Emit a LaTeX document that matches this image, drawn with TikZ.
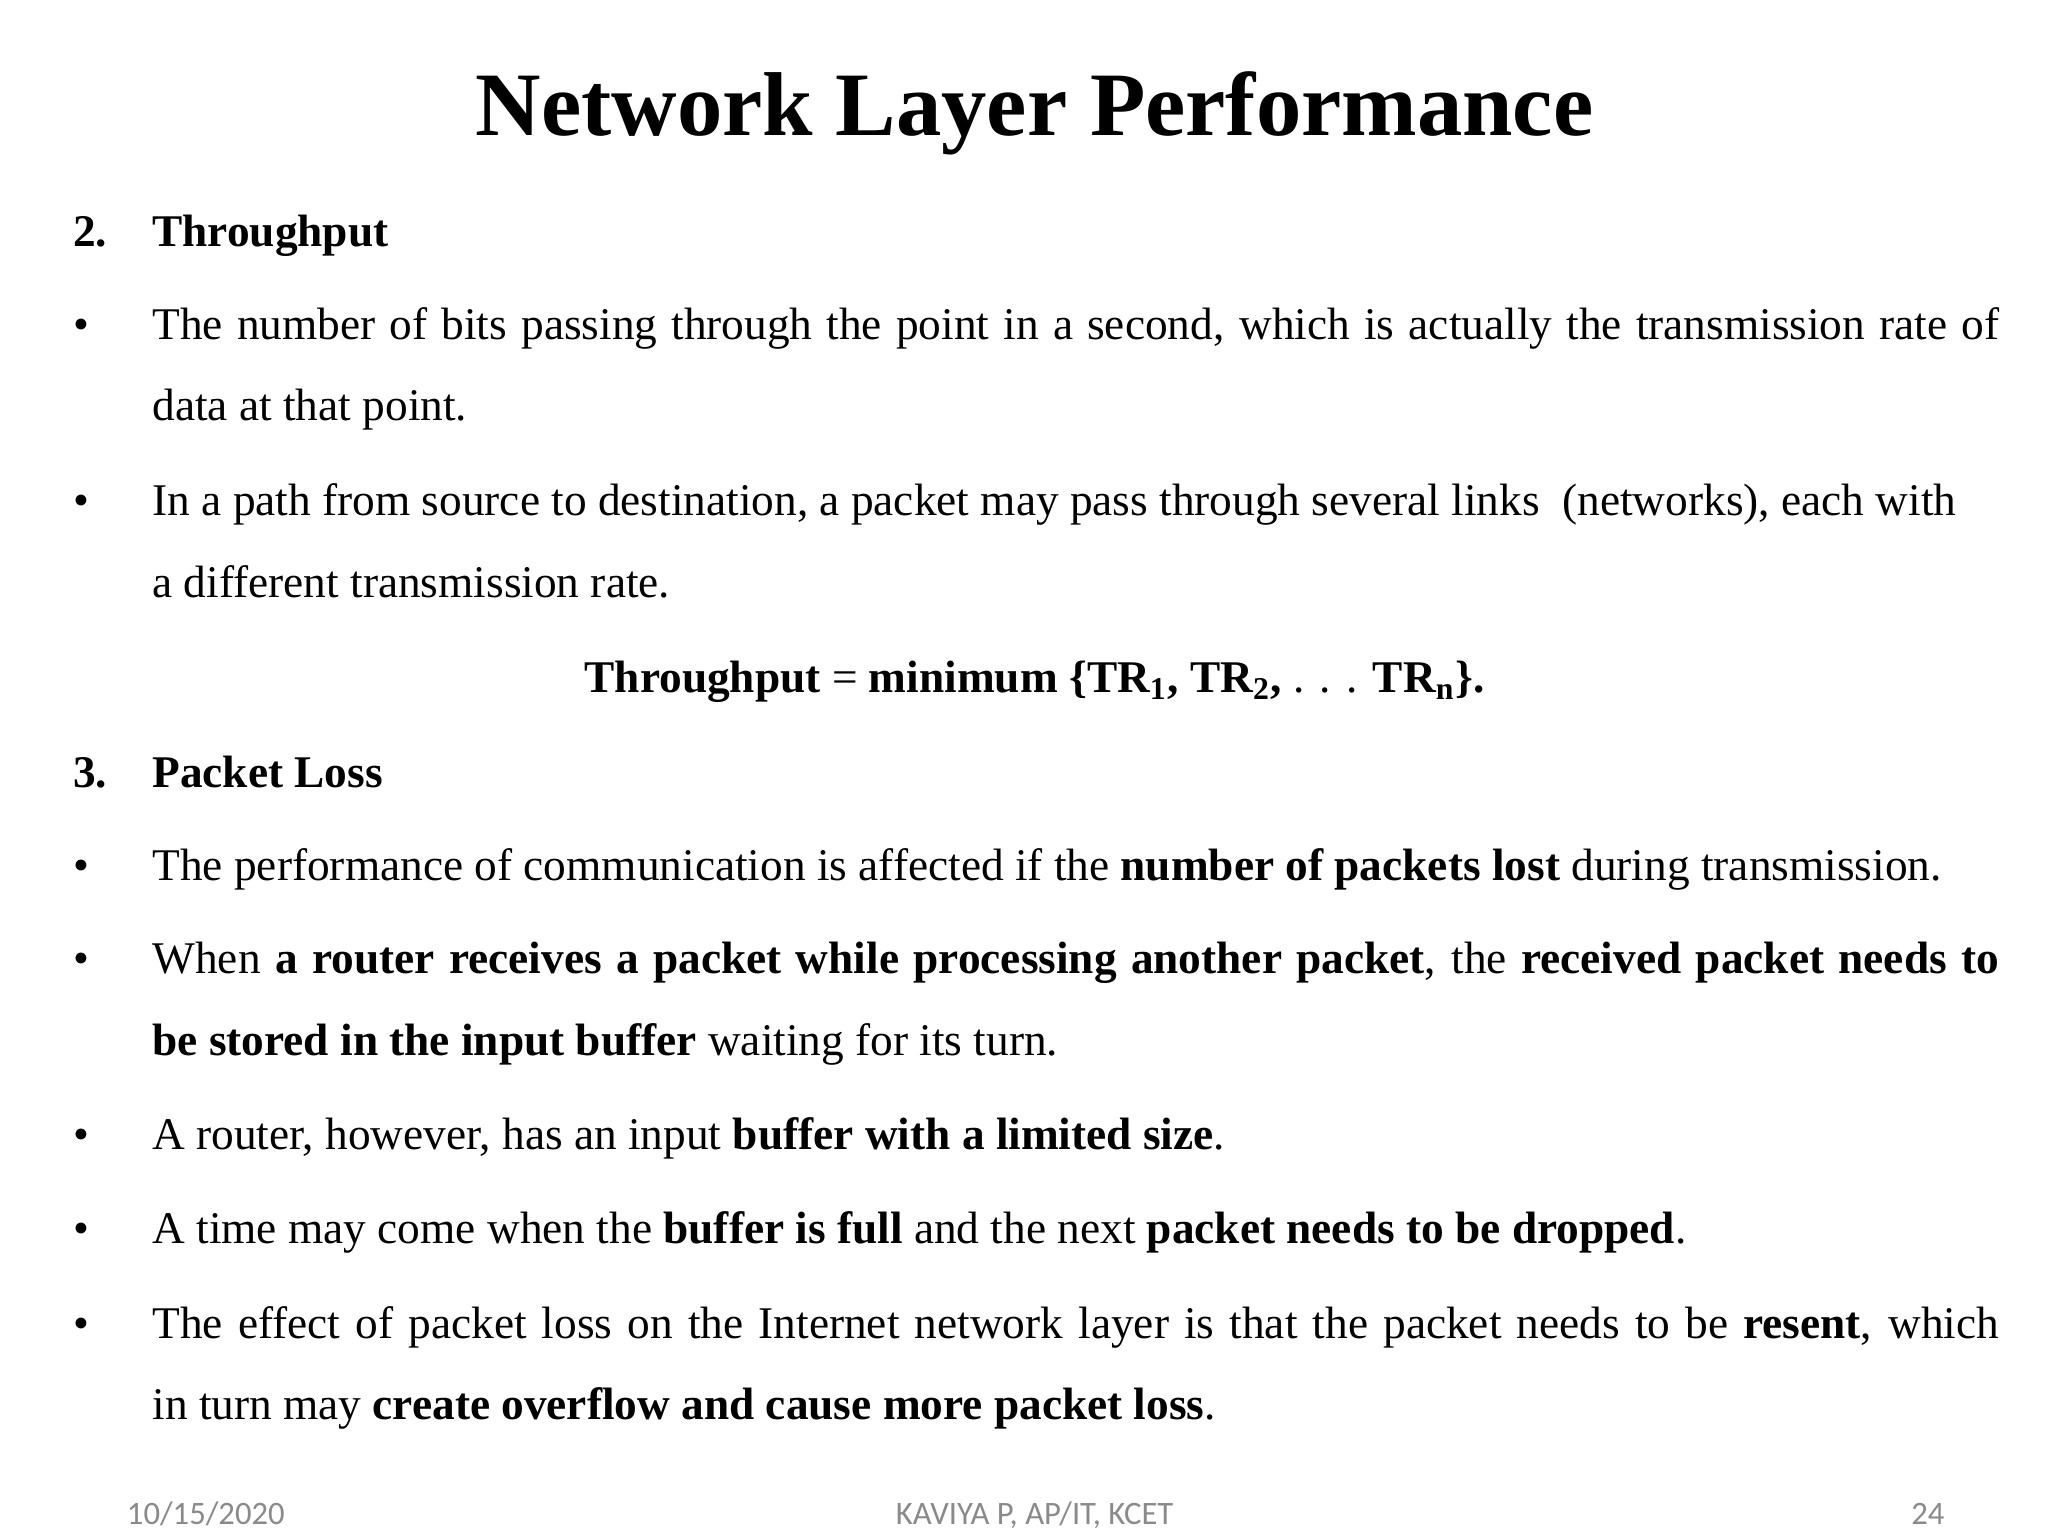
\documentclass[tikz,border=0pt]{standalone}
\usepackage{fontspec}
\setmainfont{Liberation Serif}
\newfontfamily\footfont{Carlito}
\begin{document}
\begin{tikzpicture}[x=0.013196cm,y=-0.013196cm,
  body/.style={anchor=base west,inner sep=0pt,font=\fontsize{12.9}{14}\selectfont},
  foot/.style={anchor=base,inner sep=0pt,font=\footfont\fontsize{9.3}{11}\selectfont,text=black!46}]
\useasboundingbox (0,0) rectangle (1552,1164);
\fill[white] (0,0) rectangle (1552,1164);
\node[anchor=base,inner sep=0pt,font=\fontsize{25.8}{30}\selectfont\bfseries] (title) at (784,103) {Network Layer Performance};
\newcommand{\J}[1]{\makebox[18.47cm][s]{#1}}
\node[body] (n2) at (55,187) {\textbf{2.}};
\node[body] (h2) at (115,187) {\textbf{Throughput}};
\node[body] (b1) at (55,257) {•};
\node[body] (l1) at (115,257) {\J{The number of bits passing through the point in a second, which is actually the transmission rate of}};
\node[body] (l2) at (115,319) {data at that point.};
\node[body] (b2) at (55,391) {•};
\node[body] (l3) at (115,391) {In a path from source to destination, a packet may pass through several links\ \ (networks), each with};
\node[body] (l4) at (115,453) {a different transmission rate.};
\node[body,anchor=base] (f) at (784,525) {\textbf{Throughput} = \textbf{minimum \{TR\textsubscript{1}, TR\textsubscript{2},} . . . \textbf{TR\textsubscript{n}\}.}};
\node[body] (n3) at (55,597) {\textbf{3.}};
\node[body] (h3) at (115,597) {\textbf{Packet Loss}};
\node[body] (b3) at (55,667) {•};
\node[body] (l5) at (115,667) {The performance of communication is affected if the \textbf{number of packets lost} during transmission.};
\node[body] (b4) at (55,738) {•};
\node[body] (l6) at (115,738) {\J{When \textbf{a router receives a packet while processing another packet}, the \textbf{received packet needs to}}};
\node[body] (l7) at (115,800) {\textbf{be stored in the input buffer} waiting for its turn.};
\node[body] (b5) at (55,871) {•};
\node[body] (l8) at (115,871) {A router, however, has an input \textbf{buffer with a limited size}.};
\node[body] (b6) at (55,942) {•};
\node[body] (l9) at (115,942) {A time may come when the \textbf{buffer is full} and the next \textbf{packet needs to be dropped}.};
\node[body] (b7) at (55,1014) {•};
\node[body] (l10) at (115,1014) {\J{The effect of packet loss on the Internet network layer is that the packet needs to be \textbf{resent}, which}};
\node[body] (l11) at (115,1076) {in turn may \textbf{create overflow and cause more packet loss}.};
\node[foot] (d) at (156,1155) {10/15/2020};
\node[foot] (a) at (784,1155) {KAVIYA P, AP/IT, KCET};
\node[foot] (p) at (1461,1155) {24};
\end{tikzpicture}
\end{document}
